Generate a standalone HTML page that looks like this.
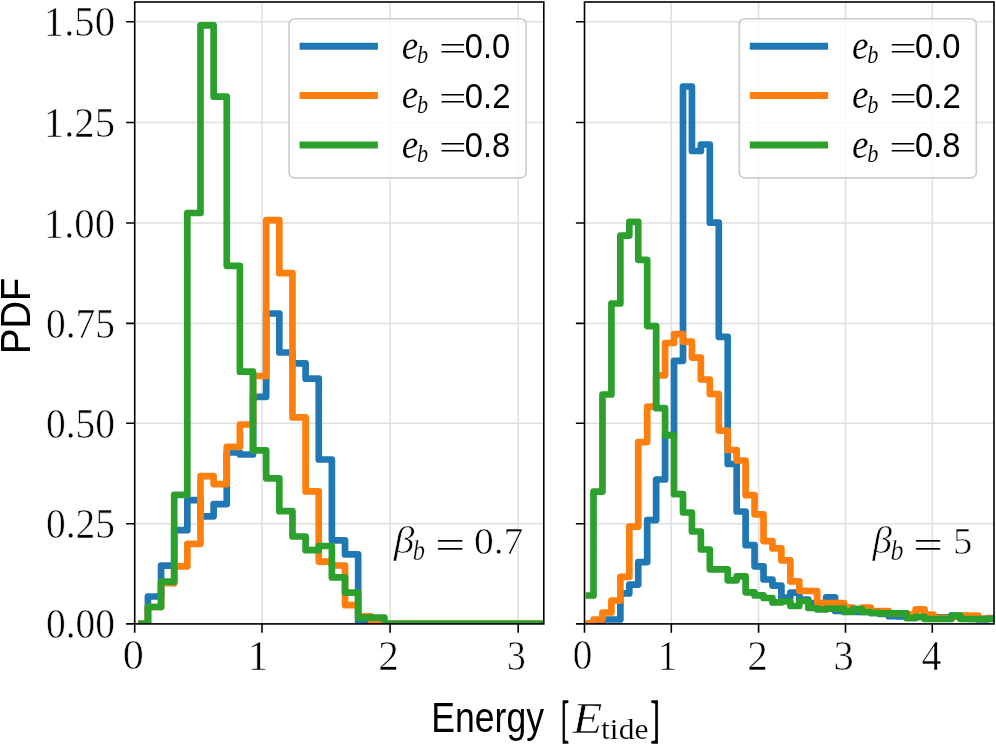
<!DOCTYPE html>
<html><head><meta charset="utf-8"><style>html,body{margin:0;padding:0;background:#fff;}svg{display:block;}</style></head><body>
<svg width="996" height="744" viewBox="0 0 996 744">
<rect width="996" height="744" fill="#fff"/>
<defs><clipPath id="cl"><rect x="134.70" y="2.00" width="409.10" height="621.90"/></clipPath>
<clipPath id="cr"><rect x="584.50" y="2.00" width="409.50" height="621.90"/></clipPath></defs>
<path d="M134.70 623.90 H543.80 M134.70 523.70 H543.80 M134.70 423.30 H543.80 M134.70 323.40 H543.80 M134.70 223.00 H543.80 M134.70 122.50 H543.80 M134.70 21.70 H543.80 M134.70 2.00 V623.90 M262.00 2.00 V623.90 M390.10 2.00 V623.90 M518.20 2.00 V623.90" stroke="#e0e0e0" stroke-width="1.5" fill="none" clip-path="url(#cl)"/>
<path d="M584.50 623.90 H994.00 M584.50 523.70 H994.00 M584.50 423.30 H994.00 M584.50 323.40 H994.00 M584.50 223.00 H994.00 M584.50 122.50 H994.00 M584.50 21.70 H994.00 M584.50 2.00 V623.90 M671.30 2.00 V623.90 M758.60 2.00 V623.90 M845.50 2.00 V623.90 M932.30 2.00 V623.90" stroke="#e0e0e0" stroke-width="1.5" fill="none" clip-path="url(#cr)"/>
<g clip-path="url(#cl)">
<path d="M141.35 623.90 L147.92 623.90 L147.92 596.50 L161.06 596.50 L161.06 565.60 L174.20 565.60 L174.20 530.20 L187.34 530.20 L187.34 500.10 L200.48 500.10 L200.48 516.30 L213.62 516.30 L213.62 504.10 L226.76 504.10 L226.76 452.50 L239.90 452.50 L239.90 454.50 L253.04 454.50 L253.04 396.80 L266.18 396.80 L266.18 313.50 L279.32 313.50 L279.32 352.50 L292.46 352.50 L292.46 363.30 L305.60 363.30 L305.60 378.70 L318.74 378.70 L318.74 459.50 L331.88 459.50 L331.88 540.30 L345.02 540.30 L345.02 554.40 L358.16 554.40 L358.16 623.90 L600.00 623.90" fill="none" stroke="#1f77b4" stroke-width="6.70" stroke-linejoin="round" stroke-linecap="square"/>
<path d="M141.35 623.90 L147.92 623.90 L147.92 607.00 L161.06 607.00 L161.06 583.10 L174.20 583.10 L174.20 566.30 L187.34 566.30 L187.34 543.80 L200.48 543.80 L200.48 476.20 L213.62 476.20 L213.62 484.10 L226.76 484.10 L226.76 446.80 L239.90 446.80 L239.90 424.50 L253.04 424.50 L253.04 376.00 L266.18 376.00 L266.18 220.20 L279.32 220.20 L279.32 273.20 L292.46 273.20 L292.46 417.40 L305.60 417.40 L305.60 491.40 L318.74 491.40 L318.74 561.60 L331.88 561.60 L331.88 565.50 L345.02 565.50 L345.02 605.20 L358.16 605.20 L358.16 616.40 L371.30 616.40 L371.30 623.90 L600.00 623.90" fill="none" stroke="#ff7f0e" stroke-width="6.70" stroke-linejoin="round" stroke-linecap="square"/>
<path d="M141.35 623.90 L147.92 623.90 L147.92 607.00 L161.06 607.00 L161.06 581.70 L174.20 581.70 L174.20 494.90 L187.34 494.90 L187.34 213.00 L200.48 213.00 L200.48 25.30 L213.62 25.30 L213.62 96.70 L226.76 96.70 L226.76 265.80 L239.90 265.80 L239.90 371.70 L253.04 371.70 L253.04 450.30 L266.18 450.30 L266.18 478.30 L279.32 478.30 L279.32 511.20 L292.46 511.20 L292.46 536.50 L305.60 536.50 L305.60 550.20 L318.74 550.20 L318.74 546.00 L331.88 546.00 L331.88 577.40 L345.02 577.40 L345.02 592.60 L358.16 592.60 L358.16 617.70 L371.30 617.70 L384.44 617.70 L384.44 623.90 L600.00 623.90" fill="none" stroke="#2ca02c" stroke-width="6.70" stroke-linejoin="round" stroke-linecap="square"/>
</g>
<g clip-path="url(#cr)">
<path d="M589.04 623.90 L593.52 623.90 L602.46 623.90 L602.46 619.50 L611.41 619.50 L620.36 619.50 L620.36 593.40 L629.31 593.40 L629.31 584.60 L638.25 584.60 L638.25 562.10 L647.20 562.10 L647.20 520.10 L656.15 520.10 L656.15 479.50 L665.09 479.50 L665.09 435.00 L674.04 435.00 L674.04 360.80 L682.99 360.80 L682.99 86.50 L691.93 86.50 L691.93 151.00 L700.88 151.00 L700.88 144.50 L709.83 144.50 L709.83 222.70 L718.78 222.70 L718.78 336.80 L727.72 336.80 L727.72 464.00 L736.67 464.00 L736.67 511.50 L745.62 511.50 L745.62 545.20 L754.56 545.20 L754.56 566.30 L763.51 566.30 L763.51 579.50 L772.46 579.50 L772.46 585.60 L781.40 585.60 L781.40 597.60 L790.35 597.60 L790.35 592.60 L799.30 592.60 L799.30 599.60 L808.25 599.60 L808.25 603.00 L817.19 603.00 L817.19 605.00 L826.14 605.00 L826.14 597.30 L835.09 597.30 L835.09 611.00 L844.03 611.00 L844.03 612.00 L852.98 612.00 L861.93 612.00 L870.87 612.00 L870.87 613.00 L879.82 613.00 L879.82 614.00 L888.77 614.00 L888.77 616.20 L897.72 616.20 L897.72 616.50 L906.66 616.50 L906.66 618.00 L915.61 618.00 L915.61 617.00 L924.56 617.00 L924.56 618.00 L933.50 618.00 L933.50 617.40 L942.45 617.40 L951.40 617.40 L951.40 615.50 L960.34 615.50 L960.34 618.00 L969.29 618.00 L969.29 619.00 L978.24 619.00 L978.24 619.50 L987.18 619.50 L987.18 618.00 L996.13 618.00 L1005.08 618.00 L1005.08 623.90 L1000.00 623.90" fill="none" stroke="#1f77b4" stroke-width="6.70" stroke-linejoin="round" stroke-linecap="square"/>
<path d="M589.04 623.90 L593.52 623.90 L593.52 619.50 L602.46 619.50 L602.46 612.50 L611.41 612.50 L611.41 600.60 L620.36 600.60 L620.36 576.80 L629.31 576.80 L629.31 526.60 L638.25 526.60 L638.25 442.10 L647.20 442.10 L647.20 406.60 L656.15 406.60 L656.15 375.30 L665.09 375.30 L665.09 343.00 L674.04 343.00 L674.04 334.20 L682.99 334.20 L682.99 341.70 L691.93 341.70 L691.93 357.60 L700.88 357.60 L700.88 379.50 L709.83 379.50 L709.83 394.00 L718.78 394.00 L718.78 430.60 L727.72 430.60 L727.72 450.00 L736.67 450.00 L736.67 460.50 L745.62 460.50 L745.62 495.20 L754.56 495.20 L754.56 514.30 L763.51 514.30 L763.51 541.10 L772.46 541.10 L772.46 548.40 L781.40 548.40 L781.40 560.40 L790.35 560.40 L790.35 581.40 L799.30 581.40 L799.30 590.80 L808.25 590.80 L808.25 591.00 L817.19 591.00 L817.19 603.10 L826.14 603.10 L826.14 603.00 L835.09 603.00 L844.03 603.00 L844.03 607.50 L852.98 607.50 L852.98 609.00 L861.93 609.00 L861.93 607.50 L870.87 607.50 L870.87 611.00 L879.82 611.00 L888.77 611.00 L888.77 613.30 L897.72 613.30 L906.66 613.30 L906.66 614.50 L915.61 614.50 L915.61 609.30 L924.56 609.30 L924.56 614.50 L933.50 614.50 L933.50 618.00 L942.45 618.00 L951.40 618.00 L951.40 617.00 L960.34 617.00 L960.34 615.60 L969.29 615.60 L978.24 615.60 L978.24 618.50 L987.18 618.50 L996.13 618.50 L1005.08 618.50 L1005.08 623.90 L1000.00 623.90" fill="none" stroke="#ff7f0e" stroke-width="6.70" stroke-linejoin="round" stroke-linecap="square"/>
<path d="M589.04 595.50 L593.52 595.50 L593.52 491.60 L602.46 491.60 L602.46 394.50 L611.41 394.50 L611.41 303.50 L620.36 303.50 L620.36 235.60 L629.31 235.60 L629.31 221.90 L638.25 221.90 L638.25 259.80 L647.20 259.80 L647.20 326.10 L656.15 326.10 L656.15 408.20 L665.09 408.20 L665.09 435.30 L674.04 435.30 L674.04 494.20 L682.99 494.20 L682.99 512.50 L691.93 512.50 L691.93 531.50 L700.88 531.50 L700.88 549.50 L709.83 549.50 L709.83 569.30 L718.78 569.30 L727.72 569.30 L727.72 580.30 L736.67 580.30 L736.67 576.30 L745.62 576.30 L745.62 592.30 L754.56 592.30 L754.56 595.40 L763.51 595.40 L763.51 598.00 L772.46 598.00 L772.46 602.40 L781.40 602.40 L781.40 601.50 L790.35 601.50 L790.35 606.00 L799.30 606.00 L799.30 601.00 L808.25 601.00 L808.25 608.00 L817.19 608.00 L817.19 609.50 L826.14 609.50 L826.14 608.70 L835.09 608.70 L844.03 608.70 L844.03 611.70 L852.98 611.70 L852.98 609.00 L861.93 609.00 L861.93 612.00 L870.87 612.00 L870.87 613.00 L879.82 613.00 L879.82 613.30 L888.77 613.30 L897.72 613.30 L906.66 613.30 L906.66 618.00 L915.61 618.00 L915.61 616.80 L924.56 616.80 L924.56 619.00 L933.50 619.00 L942.45 619.00 L951.40 619.00 L951.40 615.60 L960.34 615.60 L960.34 619.00 L969.29 619.00 L978.24 619.00 L987.18 619.00 L996.13 619.00 L1005.08 619.00 L1005.08 623.90 L1000.00 623.90" fill="none" stroke="#2ca02c" stroke-width="6.70" stroke-linejoin="round" stroke-linecap="square"/>
</g>
<rect x="134.70" y="2.00" width="409.10" height="621.90" fill="none" stroke="#000" stroke-width="1.60" stroke-linejoin="miter"/>
<path d="M126.10 623.90 H134.70 M126.10 523.70 H134.70 M126.10 423.30 H134.70 M126.10 323.40 H134.70 M126.10 223.00 H134.70 M126.10 122.50 H134.70 M126.10 21.70 H134.70 M134.70 623.90 V632.70 M262.00 623.90 V632.70 M390.10 623.90 V632.70 M518.20 623.90 V632.70" stroke="#000" stroke-width="1.60" fill="none"/>
<rect x="584.50" y="2.00" width="409.50" height="621.90" fill="none" stroke="#000" stroke-width="1.60" stroke-linejoin="miter"/>
<path d="M575.90 623.90 H584.50 M575.90 523.70 H584.50 M575.90 423.30 H584.50 M575.90 323.40 H584.50 M575.90 223.00 H584.50 M575.90 122.50 H584.50 M575.90 21.70 H584.50 M584.50 623.90 V632.70 M671.30 623.90 V632.70 M758.60 623.90 V632.70 M845.50 623.90 V632.70 M932.30 623.90 V632.70" stroke="#000" stroke-width="1.60" fill="none"/>
<text transform="translate(45.92,638.19) scale(0.9351,1)" style="font-family:'Liberation Serif',serif;font-size:42.20px;font-style:normal" stroke="#fff" stroke-width="0.60">0.00</text>
<text transform="translate(45.92,537.99) scale(0.9351,1)" style="font-family:'Liberation Serif',serif;font-size:42.20px;font-style:normal" stroke="#fff" stroke-width="0.60">0.25</text>
<text transform="translate(45.92,437.59) scale(0.9351,1)" style="font-family:'Liberation Serif',serif;font-size:42.20px;font-style:normal" stroke="#fff" stroke-width="0.60">0.50</text>
<text transform="translate(45.92,337.69) scale(0.9351,1)" style="font-family:'Liberation Serif',serif;font-size:42.20px;font-style:normal" stroke="#fff" stroke-width="0.60">0.75</text>
<text transform="translate(43.84,237.50) scale(0.9640,1)" style="font-family:'Liberation Serif',serif;font-size:42.20px;font-style:normal" stroke="#fff" stroke-width="0.60">1.00</text>
<text transform="translate(43.84,137.22) scale(0.9640,1)" style="font-family:'Liberation Serif',serif;font-size:42.20px;font-style:normal" stroke="#fff" stroke-width="0.60">1.25</text>
<text transform="translate(43.84,36.20) scale(0.9640,1)" style="font-family:'Liberation Serif',serif;font-size:42.20px;font-style:normal" stroke="#fff" stroke-width="0.60">1.50</text>
<text transform="translate(122.71,669.39) scale(0.9986,1)" style="font-family:'Liberation Serif',serif;font-size:42.20px;font-style:normal" stroke="#fff" stroke-width="0.60">0</text>
<text transform="translate(247.70,670.03) scale(0.9749,1)" style="font-family:'Liberation Serif',serif;font-size:42.20px;font-style:normal" stroke="#fff" stroke-width="0.60">1</text>
<text transform="translate(378.15,669.82) scale(0.9775,1)" style="font-family:'Liberation Serif',serif;font-size:42.20px;font-style:normal" stroke="#fff" stroke-width="0.60">2</text>
<text transform="translate(507.12,669.60) scale(0.8901,1)" style="font-family:'Liberation Serif',serif;font-size:42.20px;font-style:normal" stroke="#fff" stroke-width="0.60">3</text>
<text transform="translate(572.83,669.39) scale(0.9309,1)" style="font-family:'Liberation Serif',serif;font-size:42.20px;font-style:normal" stroke="#fff" stroke-width="0.60">0</text>
<text transform="translate(657.68,670.03) scale(0.9276,1)" style="font-family:'Liberation Serif',serif;font-size:42.20px;font-style:normal" stroke="#fff" stroke-width="0.60">1</text>
<text transform="translate(747.25,669.82) scale(0.9775,1)" style="font-family:'Liberation Serif',serif;font-size:42.20px;font-style:normal" stroke="#fff" stroke-width="0.60">2</text>
<text transform="translate(833.58,669.60) scale(0.9594,1)" style="font-family:'Liberation Serif',serif;font-size:42.20px;font-style:normal" stroke="#fff" stroke-width="0.60">3</text>
<text transform="translate(921.40,669.82) scale(0.9479,1)" style="font-family:'Liberation Serif',serif;font-size:42.20px;font-style:normal" stroke="#fff" stroke-width="0.60">4</text>
<rect x="289.10" y="18.8" width="237" height="159.1" rx="5.5" ry="5.5" fill="#fff" fill-opacity="0.8" stroke="#cccccc" stroke-width="1.6"/>
<path d="M299.60 46.20 H377.90" stroke="#1f77b4" stroke-width="7.00"/>
<text transform="translate(401.68,58.90) scale(0.9247,1)" style="font-family:'Liberation Serif',serif;font-size:40.21px;font-style:italic" stroke="#fff" stroke-width="0.15">e</text>
<text transform="translate(417.01,63.25) scale(0.8982,1)" style="font-family:'Liberation Serif',serif;font-size:24.86px;font-style:italic" stroke="#fff" stroke-width="0.10">b</text>
<text transform="translate(438.96,60.36) scale(1.4501,1)" style="font-family:'Liberation Serif',serif;font-size:33.60px;font-style:normal" stroke="#fff" stroke-width="0.20">=</text>
<text transform="translate(464.79,58.35) scale(0.9391,1)" style="font-family:'Liberation Sans',sans-serif;font-size:34.79px;font-style:normal">0.0</text>
<path d="M299.60 95.60 H377.90" stroke="#ff7f0e" stroke-width="7.00"/>
<text transform="translate(401.68,108.30) scale(0.9247,1)" style="font-family:'Liberation Serif',serif;font-size:40.21px;font-style:italic" stroke="#fff" stroke-width="0.15">e</text>
<text transform="translate(417.01,112.65) scale(0.8982,1)" style="font-family:'Liberation Serif',serif;font-size:24.86px;font-style:italic" stroke="#fff" stroke-width="0.10">b</text>
<text transform="translate(438.96,109.76) scale(1.4501,1)" style="font-family:'Liberation Serif',serif;font-size:33.60px;font-style:normal" stroke="#fff" stroke-width="0.20">=</text>
<text transform="translate(464.78,107.75) scale(0.9464,1)" style="font-family:'Liberation Sans',sans-serif;font-size:34.79px;font-style:normal">0.2</text>
<path d="M299.60 145.00 H377.90" stroke="#2ca02c" stroke-width="7.00"/>
<text transform="translate(401.68,157.70) scale(0.9247,1)" style="font-family:'Liberation Serif',serif;font-size:40.21px;font-style:italic" stroke="#fff" stroke-width="0.15">e</text>
<text transform="translate(417.01,162.05) scale(0.8982,1)" style="font-family:'Liberation Serif',serif;font-size:24.86px;font-style:italic" stroke="#fff" stroke-width="0.10">b</text>
<text transform="translate(438.96,159.16) scale(1.4501,1)" style="font-family:'Liberation Serif',serif;font-size:33.60px;font-style:normal" stroke="#fff" stroke-width="0.20">=</text>
<text transform="translate(464.79,157.15) scale(0.9391,1)" style="font-family:'Liberation Sans',sans-serif;font-size:34.79px;font-style:normal">0.8</text>
<rect x="739.30" y="18.8" width="237" height="159.1" rx="5.5" ry="5.5" fill="#fff" fill-opacity="0.8" stroke="#cccccc" stroke-width="1.6"/>
<path d="M749.80 46.20 H828.10" stroke="#1f77b4" stroke-width="7.00"/>
<text transform="translate(851.88,58.90) scale(0.9247,1)" style="font-family:'Liberation Serif',serif;font-size:40.21px;font-style:italic" stroke="#fff" stroke-width="0.15">e</text>
<text transform="translate(867.21,63.25) scale(0.8982,1)" style="font-family:'Liberation Serif',serif;font-size:24.86px;font-style:italic" stroke="#fff" stroke-width="0.10">b</text>
<text transform="translate(889.16,60.36) scale(1.4501,1)" style="font-family:'Liberation Serif',serif;font-size:33.60px;font-style:normal" stroke="#fff" stroke-width="0.20">=</text>
<text transform="translate(914.99,58.35) scale(0.9391,1)" style="font-family:'Liberation Sans',sans-serif;font-size:34.79px;font-style:normal">0.0</text>
<path d="M749.80 95.60 H828.10" stroke="#ff7f0e" stroke-width="7.00"/>
<text transform="translate(851.88,108.30) scale(0.9247,1)" style="font-family:'Liberation Serif',serif;font-size:40.21px;font-style:italic" stroke="#fff" stroke-width="0.15">e</text>
<text transform="translate(867.21,112.65) scale(0.8982,1)" style="font-family:'Liberation Serif',serif;font-size:24.86px;font-style:italic" stroke="#fff" stroke-width="0.10">b</text>
<text transform="translate(889.16,109.76) scale(1.4501,1)" style="font-family:'Liberation Serif',serif;font-size:33.60px;font-style:normal" stroke="#fff" stroke-width="0.20">=</text>
<text transform="translate(914.98,107.75) scale(0.9464,1)" style="font-family:'Liberation Sans',sans-serif;font-size:34.79px;font-style:normal">0.2</text>
<path d="M749.80 145.00 H828.10" stroke="#2ca02c" stroke-width="7.00"/>
<text transform="translate(851.88,157.70) scale(0.9247,1)" style="font-family:'Liberation Serif',serif;font-size:40.21px;font-style:italic" stroke="#fff" stroke-width="0.15">e</text>
<text transform="translate(867.21,162.05) scale(0.8982,1)" style="font-family:'Liberation Serif',serif;font-size:24.86px;font-style:italic" stroke="#fff" stroke-width="0.10">b</text>
<text transform="translate(889.16,159.16) scale(1.4501,1)" style="font-family:'Liberation Serif',serif;font-size:33.60px;font-style:normal" stroke="#fff" stroke-width="0.20">=</text>
<text transform="translate(914.99,157.15) scale(0.9391,1)" style="font-family:'Liberation Sans',sans-serif;font-size:34.79px;font-style:normal">0.8</text>
<text transform="translate(393.73,553.20) scale(1.1183,1)" style="font-family:'Liberation Serif',serif;font-size:37.14px;font-style:italic" stroke="#fff" stroke-width="0.60">β</text>
<text transform="translate(412.72,559.90) scale(0.8178,1)" style="font-family:'Liberation Serif',serif;font-size:29.86px;font-style:italic" stroke="#fff" stroke-width="0.30">b</text>
<text transform="translate(435.15,557.85) scale(1.3654,1)" style="font-family:'Liberation Serif',serif;font-size:38.80px;font-style:normal" stroke="#fff" stroke-width="0.20">=</text>
<text transform="translate(474.02,553.76) scale(1.0626,1)" style="font-family:'Liberation Serif',serif;font-size:37.16px;font-style:normal" stroke="#fff" stroke-width="0.60">0.7</text>
<text transform="translate(872.58,553.20) scale(1.0562,1)" style="font-family:'Liberation Serif',serif;font-size:37.14px;font-style:italic" stroke="#fff" stroke-width="0.60">β</text>
<text transform="translate(890.46,559.90) scale(0.8724,1)" style="font-family:'Liberation Serif',serif;font-size:29.86px;font-style:italic" stroke="#fff" stroke-width="0.30">b</text>
<text transform="translate(913.37,557.85) scale(1.3545,1)" style="font-family:'Liberation Serif',serif;font-size:38.80px;font-style:normal" stroke="#fff" stroke-width="0.20">=</text>
<text transform="translate(953.07,554.02) scale(1.0109,1)" style="font-family:'Liberation Serif',serif;font-size:38.33px;font-style:normal" stroke="#fff" stroke-width="0.60">5</text>
<text transform="translate(431.25,731.86) scale(0.8458,1)" style="font-family:'Liberation Sans',sans-serif;font-size:42.11px;font-style:normal">Energy</text>
<text transform="translate(561.24,736.32) scale(0.4520,1)" style="font-family:'Liberation Serif',serif;font-size:50.98px;font-style:normal" stroke="#000" stroke-width="1.30">[</text>
<text transform="translate(572.59,732.50) scale(1.0870,1)" style="font-family:'Liberation Serif',serif;font-size:44.92px;font-style:italic" stroke="#fff" stroke-width="0.60">E</text>
<text transform="translate(601.08,738.90) scale(1.0529,1)" style="font-family:'Liberation Serif',serif;font-size:30.00px;font-style:normal" stroke="#fff" stroke-width="0.20">tide</text>
<text transform="translate(650.68,736.32) scale(0.5261,1)" style="font-family:'Liberation Serif',serif;font-size:50.98px;font-style:normal" stroke="#000" stroke-width="1.30">]</text>
<text transform="translate(30.30,353.95) rotate(-90) scale(0.9043,1)" style="font-family:'Liberation Sans',sans-serif;font-size:42.17px">PDF</text>
</svg>
</body></html>
